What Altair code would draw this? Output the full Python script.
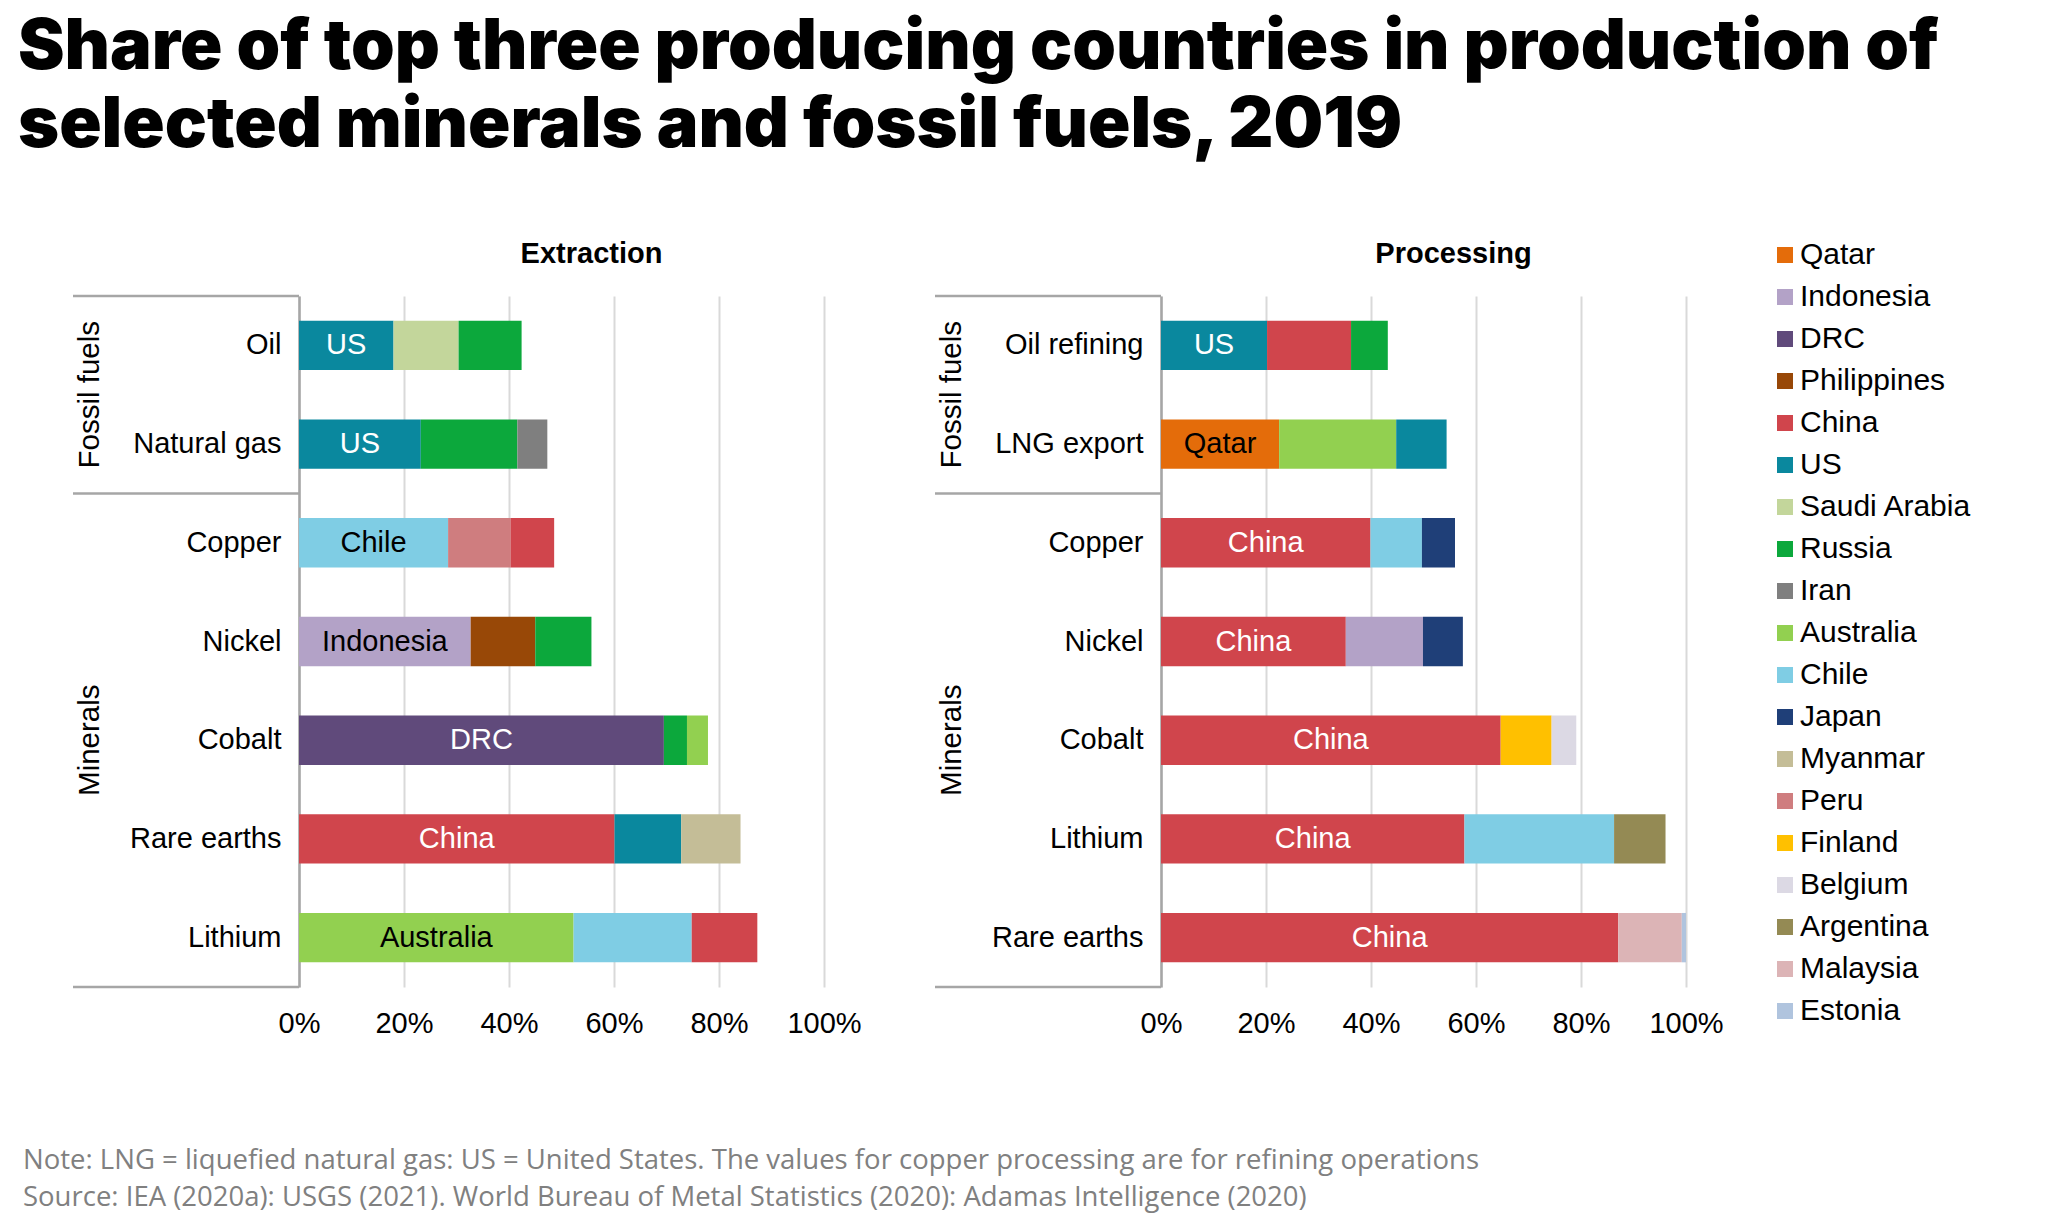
import altair as alt
import pandas as pd

# Legend order and colours for every producing country
countries = ["Qatar", "Indonesia", "DRC", "Philippines", "China", "US", "Saudi Arabia",
             "Russia", "Iran", "Australia", "Chile", "Japan", "Myanmar", "Peru",
             "Finland", "Belgium", "Argentina", "Malaysia", "Estonia"]
palette = ["#e46c0a", "#b3a2c7", "#604a7b", "#984807", "#d0454c", "#0a889e", "#c3d69b",
           "#0ca83c", "#7f7f7f", "#92d050", "#7fcde4", "#1f3f78", "#c4bd97", "#cf7d7f",
           "#ffc000", "#dcd9e4", "#948a54", "#dcb4b6", "#b0c4de"]

groups = ["Fossil fuels", "Fossil fuels", "Minerals", "Minerals", "Minerals", "Minerals", "Minerals"]

# Extraction: top three producers and their shares (%)
ext_items = ["Oil", "Natural gas", "Copper", "Nickel", "Cobalt", "Rare earths", "Lithium"]
ext_first = ["US", "US", "Chile", "Indonesia", "DRC", "China", "Australia"]
ext_first_share = [18.0, 23.2, 28.4, 32.7, 69.5, 60.1, 52.3]
ext_second = ["Saudi Arabia", "Russia", "Peru", "Philippines", "Russia", "US", "Chile"]
ext_second_share = [12.4, 18.4, 11.9, 12.3, 4.4, 12.7, 22.5]
ext_third = ["Russia", "Iran", "China", "Russia", "Australia", "Myanmar", "China"]
ext_third_share = [12.0, 5.7, 8.3, 10.7, 4.0, 11.3, 12.5]

# Processing: top three producers and their shares (%)
proc_items = ["Oil refining", "LNG export", "Copper", "Nickel", "Cobalt", "Lithium", "Rare earths"]
proc_first = ["US", "Qatar", "China", "China", "China", "China", "China"]
proc_first_share = [20.2, 22.5, 39.9, 35.2, 64.7, 57.8, 87.1]
proc_second = ["China", "Australia", "Chile", "Indonesia", "Finland", "Chile", "Malaysia"]
proc_second_share = [16.0, 22.3, 9.8, 14.7, 9.7, 28.5, 12.1]
proc_third = ["Russia", "US", "Japan", "Japan", "Belgium", "Argentina", "Estonia"]
proc_third_share = [7.0, 9.6, 6.3, 7.6, 4.7, 9.8, 0.8]

x_ticks = [0, 20, 40, 60, 80, 100]
dark_labels = ["US", "DRC", "China"]

title_lines = ["Share of top three producing countries in production of",
               "selected minerals and fossil fuels, 2019"]
note_text = ("Note: LNG = liquefied natural gas: US = United States. "
             "The values for copper processing are for refining operations\n"
             "Source: IEA (2020a): USGS (2021). World Bureau of Metal Statistics (2020): "
             "Adamas Intelligence (2020)")


def long_table(items, firsts, s1, seconds, s2, thirds, s3):
    rows = []
    for i, item in enumerate(items):
        for rank, (c, s) in enumerate([(firsts[i], s1[i]), (seconds[i], s2[i]), (thirds[i], s3[i])], 1):
            rows.append({"item": item, "group": groups[i], "country": c, "share": s, "rank": rank})
    return pd.DataFrame(rows)


ext_df = long_table(ext_items, ext_first, ext_first_share, ext_second, ext_second_share,
                    ext_third, ext_third_share)
proc_df = long_table(proc_items, proc_first, proc_first_share, proc_second, proc_second_share,
                     proc_third, proc_third_share)

W, H = 525, 691
STEP = H / 7
FONT = "Liberation Sans"
LINE = "#a6a6a6"


def panel(df, items, name, with_note=False):
    y_enc = alt.Y("item:N", sort=items,
                  scale=alt.Scale(paddingInner=0.5, paddingOuter=0.25),
                  axis=alt.Axis(title=None, ticks=False, labelFont=FONT, labelFontSize=29,
                                labelColor="black", labelPadding=18, domainColor=LINE,
                                domainWidth=2.5, labelLimit=400))
    x_scale = alt.Scale(domain=[0, 100], nice=False)

    bars = alt.Chart(df).mark_bar().encode(
        x=alt.X("share:Q", stack="zero", scale=x_scale,
                axis=alt.Axis(title=None, values=x_ticks, labelExpr="datum.value + '%'",
                              grid=True, gridColor="#d9d9d9", gridWidth=2, domain=False,
                              ticks=False, labelFont=FONT, labelFontSize=29,
                              labelColor="black", labelPadding=22, labelFlush=False)),
        y=y_enc,
        color=alt.Color("country:N", scale=alt.Scale(domain=countries, range=palette),
                        legend=alt.Legend(title=None, orient="none", legendX=1471, legendY=-56,
                                          symbolType="square", symbolSize=256,
                                          symbolStrokeWidth=0, labelFont=FONT,
                                          labelFontSize=30, labelColor="black",
                                          labelOffset=0, rowPadding=12, labelLimit=400)),
        order=alt.Order("rank:Q", sort="ascending"),
    )

    labels = alt.Chart(df).transform_filter("datum.rank == 1").transform_calculate(
        mid="datum.share / 2"
    ).mark_text(font=FONT, fontSize=29, baseline="middle").encode(
        x=alt.X("mid:Q", scale=x_scale),
        y=alt.Y("item:N", sort=items),
        text="country:N",
        color=alt.condition(alt.FieldOneOfPredicate(field="country", oneOf=dark_labels),
                            alt.value("white"), alt.value("black")),
    )

    # Group captions: "Fossil fuels" sits on the boundary between its two rows
    fossil = alt.Chart(pd.DataFrame({"group": ["Fossil fuels"], "item": [items[0]]})).mark_text(
        font=FONT, fontSize=29.5, angle=270, align="center", baseline="middle"
    ).encode(x=alt.value(-209), y=alt.Y("item:N", sort=items), yOffset=alt.value(STEP * 0.75),
             text="group:N")
    minerals = alt.Chart(pd.DataFrame({"group": ["Minerals"], "item": [items[4]]})).mark_text(
        font=FONT, fontSize=29.5, angle=270, align="center", baseline="middle"
    ).encode(x=alt.value(-209), y=alt.Y("item:N", sort=items), text="group:N")

    rule_style = dict(color=LINE, strokeWidth=2.5)
    box_top = alt.Chart(pd.DataFrame({"k": [0]})).mark_rule(**rule_style).encode(
        x=alt.value(-226), x2=alt.value(0), y=alt.value(0))
    box_mid = alt.Chart(pd.DataFrame({"k": [0]})).mark_rule(**rule_style).encode(
        x=alt.value(-226), x2=alt.value(0), y=alt.value(2 * STEP))
    box_bot = alt.Chart(pd.DataFrame({"k": [0]})).mark_rule(**rule_style).encode(
        x=alt.value(-226), x2=alt.value(0), y=alt.value(H))

    layers = [bars, labels, fossil, minerals, box_top, box_mid, box_bot]
    if with_note:
        note = alt.Chart(pd.DataFrame({"k": [0]})).mark_text(
            font="Open Sans", fontSize=27.5, color="#808080", align="left", baseline="middle",
            lineBreak="\n", lineHeight=37
        ).encode(x=alt.value(-276), y=alt.value(865), text=alt.value(note_text))
        layers.append(note)

    return alt.layer(*layers).properties(
        width=W, height=H,
        title=alt.TitleParams(name, font=FONT, fontSize=29, fontWeight="bold",
                              color="black", dx=30, offset=26),
    )


ext_panel = panel(ext_df, ext_items, "Extraction", with_note=True)
proc_panel = panel(proc_df, proc_items, "Processing")

chart = alt.hconcat(ext_panel, proc_panel, spacing=337, bounds="flush").properties(
    title=alt.TitleParams(title_lines, anchor="start", font="Inter", fontSize=70,
                          fontWeight=900, color="black", dx=-5, offset=78, lineHeight=78),
    padding={"left": 18, "top": 12, "right": 20, "bottom": 5},
    background="white",
).configure_view(stroke=None).configure_concat(spacing=337)

chart.save("out.html", embed_options={"renderer": "svg", "actions": False})
